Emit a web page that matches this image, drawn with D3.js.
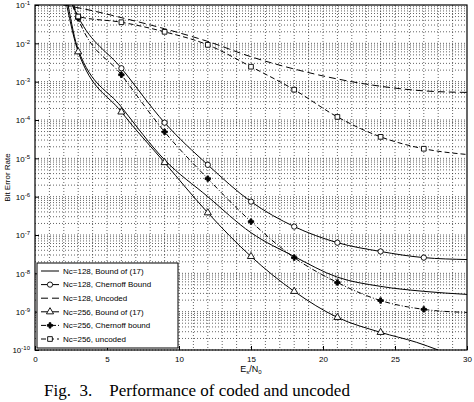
<!DOCTYPE html>
<html><head><meta charset="utf-8">
<script src="https://cdn.jsdelivr.net/npm/d3@7"></script>
<style>body{margin:0;background:#fff}svg{display:block}</style>
</head><body><svg id="c" width="474" height="402"></svg>
<script>
// exponents (log10 BER)
const bound128X = [2.3, 3, 6, 9, 12, 15, 18, 21, 24, 27, 30];
const bound128Y = [-1.0, -2.17, -3.66, -5.04, -6.0, -6.94, -7.56, -8.1, -8.34, -8.47, -8.55];
const chern128X = [2.6, 3, 6, 9, 12, 15, 18, 21, 24, 27, 30];
const chern128Y = [-1.0, -1.31, -2.65, -4.07, -5.17, -6.13, -6.78, -7.2, -7.43, -7.59, -7.64];
const unc128X = [2, 4, 6, 9, 12, 15, 18, 21, 24, 27, 30];
const unc128Y = [-1.0, -1.15, -1.33, -1.62, -1.95, -2.35, -2.67, -2.93, -3.12, -3.24, -3.28];
const bound256X = [2.2, 3, 6, 9, 12, 15, 18, 21, 24, 26.5, 28];
const bound256Y = [-1.0, -2.22, -3.79, -5.11, -6.42, -7.56, -8.47, -9.15, -9.54, -9.8, -10.0];
const chern256X = [2.7, 3, 6, 9, 12, 15, 18, 21, 24, 27, 30];
const chern256Y = [-1.0, -1.35, -2.82, -4.31, -5.53, -6.65, -7.59, -8.24, -8.71, -8.94, -9.02];
const unc256X = [2.6, 3, 6, 9, 12, 15, 18, 21, 24, 27, 30];
const unc256Y = [-1.0, -1.3, -1.45, -1.7, -2.04, -2.61, -3.21, -3.92, -4.44, -4.75, -4.9];
const markerX = [3, 6, 9, 12, 15, 18, 21, 24, 27];
const xTicks = [0, 5, 10, 15, 20, 25, 30];
const yExps = [-1, -2, -3, -4, -5, -6, -7, -8, -9, -10];
const legendLabels = ["Nc=128, Bound of (17)", "Nc=128, Chernoff Bound", "Nc=128, Uncoded",
  "Nc=256, Bound of (17)", "Nc=256, Chernoff bound", "Nc=256, uncoded"];

const svg = d3.select("#c");
const L = 35, R = 467, T = 5, B = 350;
const x = d3.scaleLinear().domain([0, 30]).range([L, R]);
const y = d3.scaleLog().domain([1e-10, 1e-1]).range([B, T]);

// grid
const g = svg.append("g").attr("stroke", "#222").attr("stroke-width", 0.7).attr("stroke-dasharray", "1,2");
d3.range(1, 30).forEach(v => g.append("line").attr("x1", x(v)).attr("x2", x(v)).attr("y1", T).attr("y2", B));
yExps.slice(0, -1).forEach(e => {
  for (let k = 1; k < 10; k++) {
    const val = k * Math.pow(10, e - 1);
    if (val >= 1e-10 && val < 1e-1) g.append("line").attr("x1", L).attr("x2", R).attr("y1", y(val)).attr("y2", y(val));
  }
});
svg.append("rect").attr("x", L).attr("y", T).attr("width", R - L).attr("height", B - T).attr("fill", "none").attr("stroke", "#000").attr("stroke-width", 1.2);

// axes
const xa = svg.append("g").attr("transform", `translate(0,${B})`).call(d3.axisBottom(x).tickValues(xTicks).tickSize(-4).tickPadding(6));
xa.select(".domain").remove();
xa.selectAll("text").attr("font-family", "Liberation Sans, Arial").attr("font-size", 8);
const ya = svg.append("g").attr("transform", `translate(${L},0)`).call(d3.axisLeft(y).tickValues(yExps.map(e => Math.pow(10, e))).tickSize(-4).tickPadding(4).tickFormat(() => ""));
ya.select(".domain").remove();
ya.selectAll(".tick").each(function (d) {
  const t = d3.select(this).append("text").attr("x", -5).attr("dy", "0.35em").attr("text-anchor", "end")
    .attr("font-family", "Liberation Sans, Arial").attr("font-size", 8).attr("fill", "#000");
  t.append("tspan").text("10");
  t.append("tspan").attr("dy", "-0.5em").attr("font-size", 6).text(Math.round(Math.log10(d)));
});
svg.append("text").attr("transform", `translate(10,${(T + B) / 2}) rotate(-90)`).attr("text-anchor", "middle")
  .attr("font-family", "Liberation Sans, Arial").attr("font-size", 8).text("Bit Error Rate");
const xl = svg.append("text").attr("x", x(15)).attr("y", 372).attr("text-anchor", "middle").attr("font-family", "Liberation Sans, Arial").attr("font-size", 9);
xl.append("tspan").text("E"); xl.append("tspan").attr("dy", 2).attr("font-size", 6).text("s");
xl.append("tspan").attr("dy", -2).text("/N"); xl.append("tspan").attr("dy", 2).attr("font-size", 6).text("0");

svg.append("text").attr("x", 44).attr("y", 396).attr("font-family", "Liberation Serif, serif").attr("font-size", 17)
  .attr("xml:space", "preserve").text("Fig.  3.    Performance of coded and uncoded");

// series
const series = [
  { xs: bound128X, ys: bound128Y, dash: null, mk: null },
  { xs: chern128X, ys: chern128Y, dash: null, mk: "circle" },
  { xs: unc128X, ys: unc128Y, dash: "7,4", mk: null },
  { xs: bound256X, ys: bound256Y, dash: null, mk: "triangle" },
  { xs: chern256X, ys: chern256Y, dash: "5,2,1,2", mk: "star" },
  { xs: unc256X, ys: unc256Y, dash: "5,3", mk: "square" },
];
const line = d3.line().curve(d3.curveMonotoneX).x(d => x(d[0])).y(d => y(Math.pow(10, d[1])));
svg.append("clipPath").attr("id", "pc").append("rect").attr("x", L).attr("y", T).attr("width", R - L).attr("height", B - T);
const sym = { circle: d3.symbolCircle, triangle: d3.symbolTriangle, star: d3.symbolCross, square: d3.symbolSquare };
function marker(sel, mk, cx, cy) {
  sel.append("path").attr("d", d3.symbol().type(sym[mk]).size(mk === "star" ? 16 : 22)())
    .attr("transform", `translate(${cx},${cy})`).attr("fill", mk === "star" ? "#000" : "#fff").attr("stroke", "#000").attr("stroke-width", 0.9);
}
const plot = svg.append("g").attr("clip-path", "url(#pc)");
series.forEach(s => {
  const pts = s.xs.map((v, i) => [v, s.ys[i]]);
  plot.append("path").attr("d", line(pts)).attr("fill", "none").attr("stroke", "#000").attr("stroke-width", 1)
    .attr("stroke-dasharray", s.dash);
  if (s.mk) pts.filter(p => markerX.includes(p[0])).forEach(p => marker(plot, s.mk, x(p[0]), y(Math.pow(10, p[1]))));
});

// legend
const lg = svg.append("g");
lg.append("rect").attr("x", L + 2).attr("y", 263).attr("width", 141).attr("height", 85).attr("fill", "#fff").attr("stroke", "#000").attr("stroke-width", 1);
legendLabels.forEach((lab, i) => {
  const yy = 271 + i * 13.6, s = series[i];
  lg.append("line").attr("x1", L + 6).attr("x2", L + 24).attr("y1", yy).attr("y2", yy).attr("stroke", "#000").attr("stroke-dasharray", s.dash);
  if (s.mk) marker(lg, s.mk, L + 15, yy);
  lg.append("text").attr("x", L + 28).attr("y", yy).attr("dy", "0.35em").attr("font-family", "Liberation Sans, Arial").attr("font-size", 8).text(lab);
});
</script></body></html>
